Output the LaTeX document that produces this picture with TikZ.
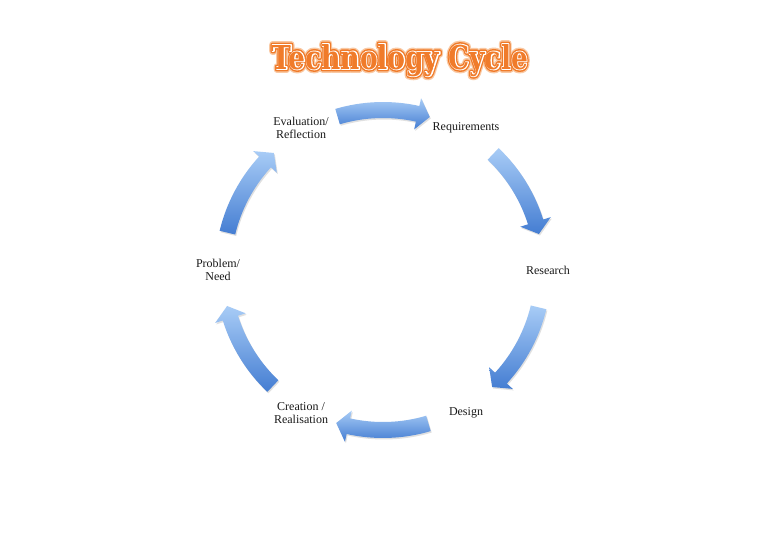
\documentclass[tikz,border=0pt]{standalone}
\usepackage{fontspec}
\setmainfont{Liberation Serif}
\newfontfamily\titlefont{DejaVu Serif}
\usetikzlibrary{shadows}
\definecolor{arrowlight}{HTML}{A8CCF6}
\definecolor{arrowdark}{HTML}{447DD2}
\definecolor{titleorange}{HTML}{F07B2A}
\definecolor{titleglow}{HTML}{F9C9A4}
\definecolor{labelgray}{HTML}{1A1A1A}
\newcommand\mytitlebox[1]{\resizebox{256pt}{25pt}{#1\titlefont\bfseries Technology Cycle\special{pdf:literal direct 0 Tr 1 w 0 j}}}
\tikzset{
  steplabel/.style={align=center, font=\fontsize{12}{13.5}\selectfont, text=labelgray, inner sep=1pt},
  cyclearrow/.style={top color=arrowlight, bottom color=arrowdark,
    drop shadow={shadow xshift=1pt, shadow yshift=-1.5pt, opacity=0.12, fill=black}},
  titlelayer/.style={inner sep=0pt, anchor=base}
}
\begin{document}
\begin{tikzpicture}[x=1pt,y=1pt]
\useasboundingbox (0,0) rectangle (768,-543);
\fill[white] (0,0) rectangle (768,-543);
% title: soft glow, orange outer band, thin white line, full orange core
\node[titlelayer, text=titleglow] (titleglow) at (400,-69)
  {\mytitlebox{\special{pdf:literal direct 2 Tr 2.4 w 1 j}}};
\node[titlelayer, text=titleorange] (titleband) at (400,-69)
  {\mytitlebox{\special{pdf:literal direct 2 Tr 1.5 w 1 j}}};
\node[titlelayer, text=white] (titleline) at (400,-69)
  {\mytitlebox{\special{pdf:literal direct 1 Tr 0.55 w 1 j}}};
\node[titlelayer, text=titleorange] (title) at (400,-69)
  {\mytitlebox{\special{pdf:literal direct 0 Tr}}};
% arrows
\begin{scope}[shift={(383,-270)}]
\foreach \c [count=\i] in {90,30,-30,-90,-150,150} {
  \pgfmathsetmacro\ta{\c+16.5}
  \pgfmathsetmacro\hb{\c-12.5}
  \pgfmathsetmacro\tp{\c-17}
  \path[cyclearrow] (\ta:168) arc[start angle=\ta, end angle=\hb, radius=168]
     -- (\hb:176) -- (\tp:160) -- (\hb:144) -- (\hb:152)
     arc[start angle=\hb, end angle=\ta, radius=152] -- cycle;
}
\end{scope}
% labels
\node[steplabel] (eval) at (301,-128) {Evaluation/\\Reflection};
\node[steplabel] (req) at (466,-128) {Requirements};
\node[steplabel] (res) at (548,-270) {Research};
\node[steplabel] (des) at (466,-413) {Design};
\node[steplabel] (cre) at (301,-413) {Creation /\\Realisation};
\node[steplabel] (prob) at (218,-270) {Problem/\\Need};
\end{tikzpicture}
\end{document}
